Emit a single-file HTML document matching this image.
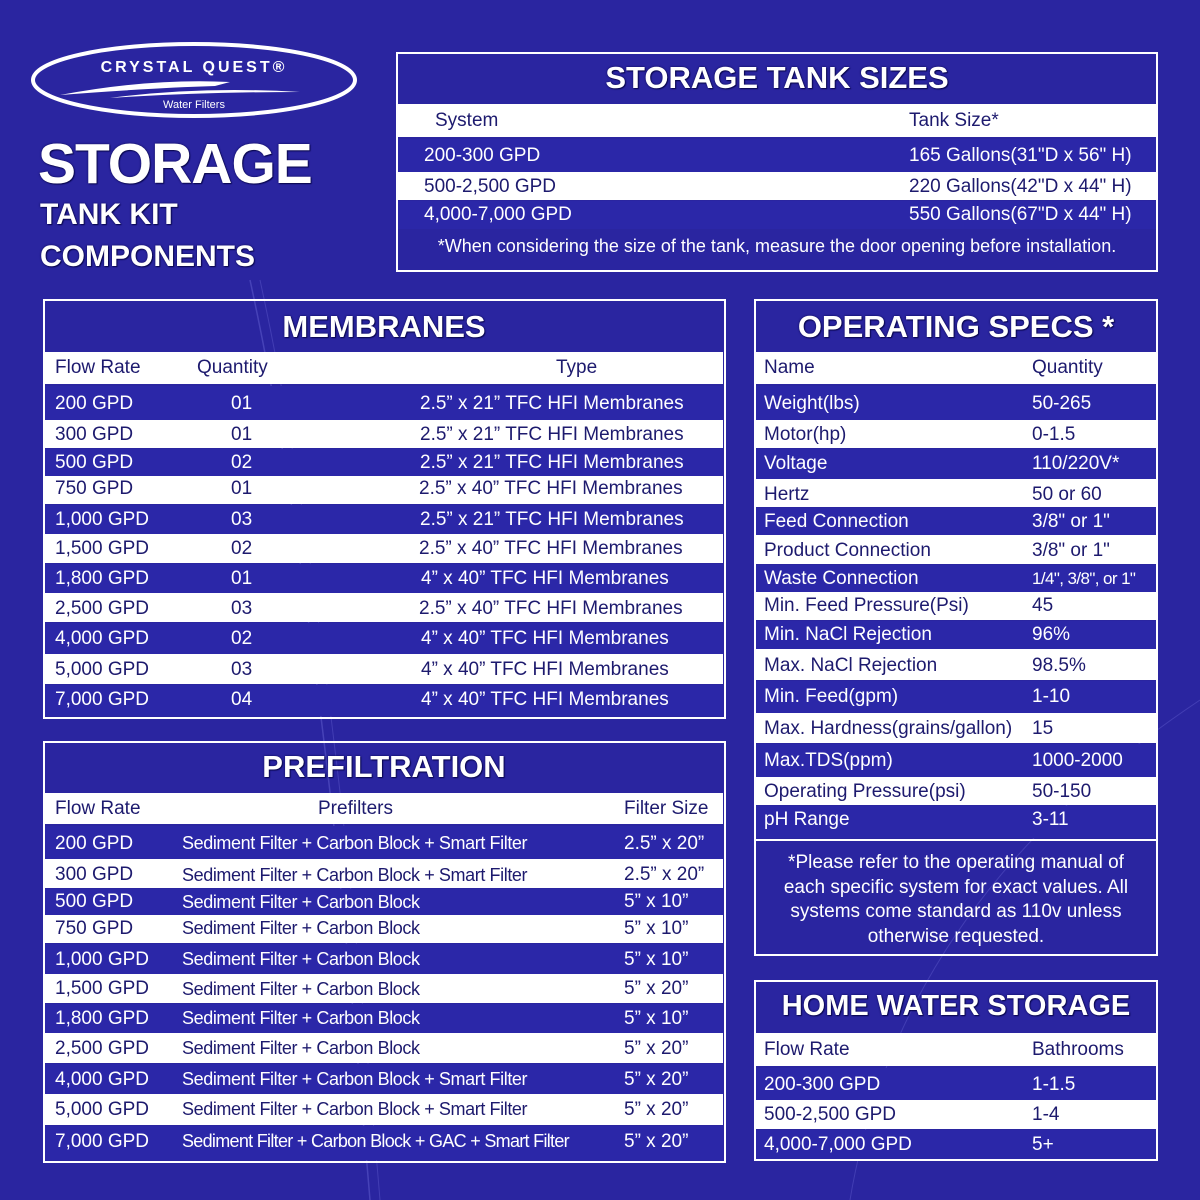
<!DOCTYPE html><html><head><meta charset="utf-8"><style>
body{margin:0;width:1200px;height:1200px;background:#2a25a0;position:relative;overflow:hidden;font-family:"Liberation Sans",sans-serif;color:#fff}
.a{position:absolute}
.box{position:absolute;border:2px solid #fff;box-sizing:border-box}
.t{position:absolute;font-weight:bold;text-align:center;color:#fff;text-shadow:0 0 2px #0b0850,1px 1px 1px #0b0850}
.w{position:absolute;background:#fff;color:#1d1a6e}
.b{position:absolute;background:#2b27a8;color:#fff}
.w span,.b span{position:absolute;top:0;white-space:nowrap}
.r{font-size:19px}
.p{font-size:18px;letter-spacing:-0.4px}
</style></head><body>
<svg class="a" style="left:0;top:0" width="1200" height="1200">
<path d="M250 280 Q320 600 370 1200" stroke="#5a56c8" fill="none" stroke-width="1.5" opacity=".6"/>
<path d="M260 280 Q330 600 380 1200" stroke="#5a56c8" fill="none" stroke-width="1" opacity=".5"/>
<path d="M850 1200 Q900 900 1200 700" stroke="#5a56c8" fill="none" stroke-width="1" opacity=".5"/>
<ellipse cx="194" cy="80" rx="161" ry="36" fill="none" stroke="#fff" stroke-width="4"/>
<path d="M60 95 Q150 78 230 82 L215 86 Q150 88 60 95Z M110 98 Q200 86 300 92 Q200 92 110 98Z" fill="#fff"/>
<text x="194" y="72" text-anchor="middle" fill="#fff" font-family="Liberation Sans" font-weight="bold" font-size="16" letter-spacing="3">CRYSTAL QUEST®</text>
<text x="194" y="108" text-anchor="middle" fill="#fff" font-family="Liberation Sans" font-size="11">Water Filters</text>
</svg>
<div class="t" style="left:38px;top:131px;font-size:57px;text-align:left;letter-spacing:-1px">STORAGE</div>
<div class="t" style="left:40px;top:198px;font-size:30px;text-align:left">TANK KIT</div>
<div class="t" style="left:40px;top:240px;font-size:30px;text-align:left">COMPONENTS</div>

<div class="box" style="left:396px;top:52px;width:762px;height:220px"></div>
<div class="t" style="left:398px;top:60px;width:758px;font-size:31px">STORAGE TANK SIZES</div>
<div class="w r" style="left:398px;top:104px;width:758px;height:33px;line-height:33px"><span style="left:37px">System</span><span style="left:511px">Tank Size*</span></div>
<div class="b r" style="left:398px;top:139px;width:758px;height:33px;line-height:34px"><span style="left:26px">200-300 GPD</span><span style="left:511px">165 Gallons(31"D x 56" H)</span></div>
<div class="w r" style="left:398px;top:172px;width:758px;height:28px;line-height:29px"><span style="left:26px">500-2,500 GPD</span><span style="left:511px">220 Gallons(42"D x 44" H)</span></div>
<div class="b r" style="left:398px;top:201px;width:758px;height:28px;line-height:28px"><span style="left:26px">4,000-7,000 GPD</span><span style="left:511px">550 Gallons(67"D x 44" H)</span></div>
<div class="a" style="left:398px;top:236px;width:758px;text-align:center;font-size:18px">*When considering the size of the tank, measure the door opening before installation.</div>

<div class="box" style="left:43px;top:299px;width:683px;height:420px"></div>
<div class="t" style="left:45px;top:309px;width:678px;font-size:31px">MEMBRANES</div>
<div class="w r" style="left:45px;top:352px;width:678px;height:32px;line-height:32px"><span style="left:10px">Flow Rate</span><span style="left:152px">Quantity</span><span style="left:511px">Type</span></div>
<div class="b r" style="left:45px;top:386px;width:678px;height:34px;line-height:35px"><span style="left:10px">200 GPD</span><span style="left:186px">01</span><span style="left:375px">2.5” x 21” TFC HFI Membranes</span></div>
<div class="w r" style="left:45px;top:420px;width:678px;height:28px;line-height:29px"><span style="left:10px">300 GPD</span><span style="left:186px">01</span><span style="left:375px">2.5” x 21” TFC HFI Membranes</span></div>
<div class="b r" style="left:45px;top:449px;width:678px;height:27px;line-height:27px"><span style="left:10px">500 GPD</span><span style="left:186px">02</span><span style="left:375px">2.5” x 21” TFC HFI Membranes</span></div>
<div class="w r" style="left:45px;top:476px;width:678px;height:28px;line-height:26px"><span style="left:10px">750 GPD</span><span style="left:186px">01</span><span style="left:374px">2.5” x 40” TFC HFI Membranes</span></div>
<div class="b r" style="left:45px;top:505px;width:678px;height:29px;line-height:29px"><span style="left:10px">1,000 GPD</span><span style="left:186px">03</span><span style="left:375px">2.5” x 21” TFC HFI Membranes</span></div>
<div class="w r" style="left:45px;top:534px;width:678px;height:29px;line-height:29px"><span style="left:10px">1,500 GPD</span><span style="left:186px">02</span><span style="left:374px">2.5” x 40” TFC HFI Membranes</span></div>
<div class="b r" style="left:45px;top:564px;width:678px;height:29px;line-height:29px"><span style="left:10px">1,800 GPD</span><span style="left:186px">01</span><span style="left:376px">4” x 40” TFC HFI Membranes</span></div>
<div class="w r" style="left:45px;top:593px;width:678px;height:29px;line-height:31px"><span style="left:10px">2,500 GPD</span><span style="left:186px">03</span><span style="left:374px">2.5” x 40” TFC HFI Membranes</span></div>
<div class="b r" style="left:45px;top:623px;width:678px;height:31px;line-height:32px"><span style="left:10px">4,000 GPD</span><span style="left:186px">02</span><span style="left:376px">4” x 40” TFC HFI Membranes</span></div>
<div class="w r" style="left:45px;top:654px;width:678px;height:30px;line-height:31px"><span style="left:10px">5,000 GPD</span><span style="left:186px">03</span><span style="left:376px">4” x 40” TFC HFI Membranes</span></div>
<div class="b r" style="left:45px;top:685px;width:678px;height:31px;line-height:29px"><span style="left:10px">7,000 GPD</span><span style="left:186px">04</span><span style="left:376px">4” x 40” TFC HFI Membranes</span></div>

<div class="box" style="left:43px;top:741px;width:683px;height:422px"></div>
<div class="t" style="left:45px;top:749px;width:678px;font-size:31px">PREFILTRATION</div>
<div class="w r" style="left:45px;top:793px;width:678px;height:31px;line-height:31px"><span style="left:10px">Flow Rate</span><span style="left:273px">Prefilters</span><span style="left:579px">Filter Size</span></div>
<div class="b r" style="left:45px;top:826px;width:678px;height:33px;line-height:35px"><span style="left:10px">200 GPD</span><span class="p" style="left:137px">Sediment Filter + Carbon Block + Smart Filter</span><span style="left:579px">2.5” x 20”</span></div>
<div class="w r" style="left:45px;top:859px;width:678px;height:29px;line-height:32px"><span style="left:10px">300 GPD</span><span class="p" style="left:137px">Sediment Filter + Carbon Block + Smart Filter</span><span style="left:579px">2.5” x 20”</span></div>
<div class="b r" style="left:45px;top:889px;width:678px;height:26px;line-height:26px"><span style="left:10px">500 GPD</span><span class="p" style="left:137px">Sediment Filter + Carbon Block</span><span style="left:579px">5” x 10”</span></div>
<div class="w r" style="left:45px;top:915px;width:678px;height:28px;line-height:27px"><span style="left:10px">750 GPD</span><span class="p" style="left:137px">Sediment Filter + Carbon Block</span><span style="left:579px">5” x 10”</span></div>
<div class="b r" style="left:45px;top:944px;width:678px;height:30px;line-height:31px"><span style="left:10px">1,000 GPD</span><span class="p" style="left:137px">Sediment Filter + Carbon Block</span><span style="left:579px">5” x 10”</span></div>
<div class="w r" style="left:45px;top:974px;width:678px;height:29px;line-height:30px"><span style="left:10px">1,500 GPD</span><span class="p" style="left:137px">Sediment Filter + Carbon Block</span><span style="left:579px">5” x 20”</span></div>
<div class="b r" style="left:45px;top:1004px;width:678px;height:29px;line-height:29px"><span style="left:10px">1,800 GPD</span><span class="p" style="left:137px">Sediment Filter + Carbon Block</span><span style="left:579px">5” x 10”</span></div>
<div class="w r" style="left:45px;top:1033px;width:678px;height:30px;line-height:31px"><span style="left:10px">2,500 GPD</span><span class="p" style="left:137px">Sediment Filter + Carbon Block</span><span style="left:579px">5” x 20”</span></div>
<div class="b r" style="left:45px;top:1064px;width:678px;height:30px;line-height:31px"><span style="left:10px">4,000 GPD</span><span class="p" style="left:137px">Sediment Filter + Carbon Block + Smart Filter</span><span style="left:579px">5” x 20”</span></div>
<div class="w r" style="left:45px;top:1094px;width:678px;height:31px;line-height:31px"><span style="left:10px">5,000 GPD</span><span class="p" style="left:137px">Sediment Filter + Carbon Block + Smart Filter</span><span style="left:579px">5” x 20”</span></div>
<div class="b r" style="left:45px;top:1126px;width:678px;height:34px;line-height:31px"><span style="left:10px">7,000 GPD</span><span class="p" style="left:137px;letter-spacing:-0.7px">Sediment Filter + Carbon Block + GAC + Smart Filter</span><span style="left:579px">5” x 20”</span></div>

<div class="box" style="left:754px;top:299px;width:404px;height:657px"></div>
<div class="t" style="left:756px;top:309px;width:400px;font-size:31px">OPERATING SPECS *</div>
<div class="w r" style="left:756px;top:352px;width:400px;height:32px;line-height:32px"><span style="left:8px">Name</span><span style="left:276px">Quantity</span></div>
<div class="b r" style="left:756px;top:386px;width:400px;height:34px;line-height:35px"><span style="left:8px">Weight(lbs)</span><span style="left:276px">50-265</span></div>
<div class="w r" style="left:756px;top:420px;width:400px;height:28px;line-height:29px"><span style="left:8px">Motor(hp)</span><span style="left:276px">0-1.5</span></div>
<div class="b r" style="left:756px;top:449px;width:400px;height:30px;line-height:29px"><span style="left:8px">Voltage</span><span style="left:276px">110/220V*</span></div>
<div class="w r" style="left:756px;top:479px;width:400px;height:28px;line-height:31px"><span style="left:8px">Hertz</span><span style="left:276px">50 or 60</span></div>
<div class="b r" style="left:756px;top:508px;width:400px;height:27px;line-height:27px"><span style="left:8px">Feed Connection</span><span style="left:276px">3/8" or 1"</span></div>
<div class="w r" style="left:756px;top:535px;width:400px;height:29px;line-height:31px"><span style="left:8px">Product Connection</span><span style="left:276px">3/8" or 1"</span></div>
<div class="b r" style="left:756px;top:565px;width:400px;height:27px;line-height:27px"><span style="left:8px">Waste Connection</span><span style="left:276px;font-size:17px;letter-spacing:-0.6px">1/4", 3/8", or 1"</span></div>
<div class="w r" style="left:756px;top:592px;width:400px;height:28px;line-height:28px"><span style="left:8px">Min. Feed Pressure(Psi)</span><span style="left:276px">45</span></div>
<div class="b r" style="left:756px;top:621px;width:400px;height:28px;line-height:27px"><span style="left:8px">Min. NaCl Rejection</span><span style="left:276px">96%</span></div>
<div class="w r" style="left:756px;top:649px;width:400px;height:31px;line-height:33px"><span style="left:8px">Max. NaCl Rejection</span><span style="left:276px">98.5%</span></div>
<div class="b r" style="left:756px;top:681px;width:400px;height:32px;line-height:32px"><span style="left:8px">Min. Feed(gpm)</span><span style="left:276px">1-10</span></div>
<div class="w r" style="left:756px;top:713px;width:400px;height:30px;line-height:31px"><span style="left:8px">Max. Hardness(grains/gallon)</span><span style="left:276px">15</span></div>
<div class="b r" style="left:756px;top:744px;width:400px;height:33px;line-height:33px"><span style="left:8px">Max.TDS(ppm)</span><span style="left:276px">1000-2000</span></div>
<div class="w r" style="left:756px;top:777px;width:400px;height:28px;line-height:30px"><span style="left:8px">Operating Pressure(psi)</span><span style="left:276px">50-150</span></div>
<div class="b r" style="left:756px;top:806px;width:400px;height:32px;line-height:28px"><span style="left:8px">pH Range</span><span style="left:276px">3-11</span></div>
<div class="a" style="left:756px;top:839px;width:400px;height:2px;background:#fff"></div>
<div class="a" style="left:756px;top:851px;width:400px;text-align:center;font-size:19px;line-height:24.5px">*Please refer to the operating manual of<br>each specific system for exact values. All<br>systems come standard as 110v unless<br>otherwise requested.</div>

<div class="box" style="left:754px;top:980px;width:404px;height:181px"></div>
<div class="t" style="left:756px;top:990px;width:400px;font-size:29px">HOME WATER STORAGE</div>
<div class="w r" style="left:756px;top:1033px;width:400px;height:33px;line-height:33px"><span style="left:8px">Flow Rate</span><span style="left:276px">Bathrooms</span></div>
<div class="b r" style="left:756px;top:1068px;width:400px;height:32px;line-height:34px"><span style="left:8px">200-300 GPD</span><span style="left:276px">1-1.5</span></div>
<div class="w r" style="left:756px;top:1100px;width:400px;height:29px;line-height:29px"><span style="left:8px">500-2,500 GPD</span><span style="left:276px">1-4</span></div>
<div class="b r" style="left:756px;top:1130px;width:400px;height:29px;line-height:29px"><span style="left:8px">4,000-7,000 GPD</span><span style="left:276px">5+</span></div>
</body></html>
